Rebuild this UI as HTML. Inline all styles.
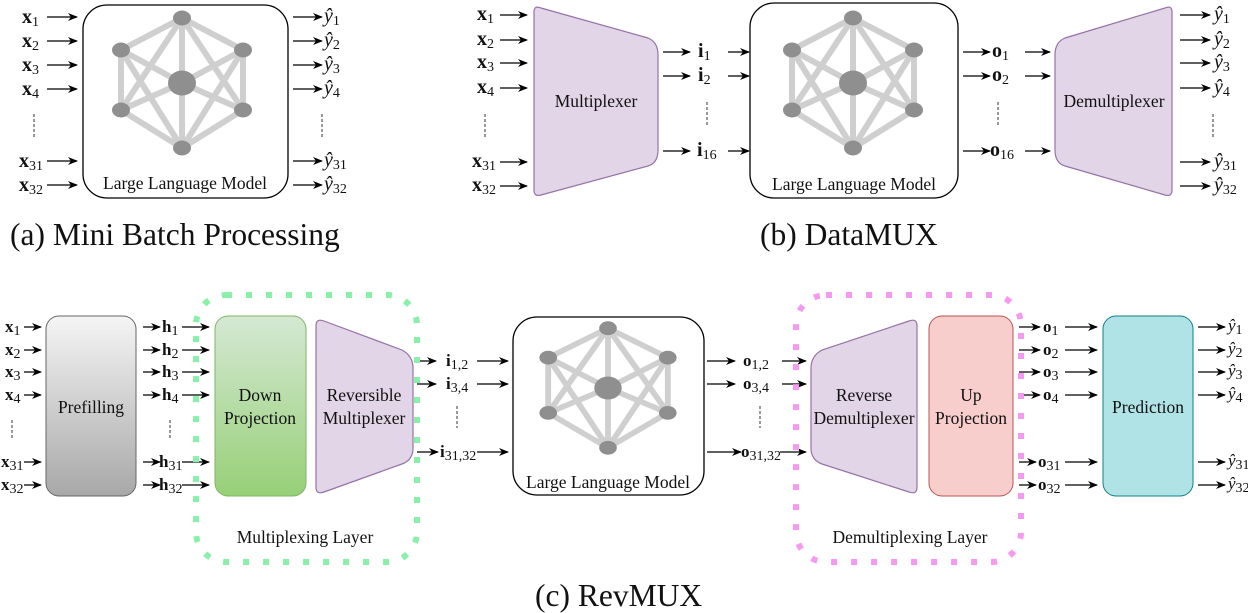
<!DOCTYPE html>
<html><head><meta charset="utf-8"><style>
html,body{margin:0;padding:0;background:#fff;}
svg{display:block;}
text{font-family:"Liberation Serif",serif;fill:#111;}
.b{font-weight:bold;font-size:20px;}
.y{font-style:italic;font-size:20px;}
.s{font-size:14px;font-weight:normal;font-style:normal;}
.t{font-size:17.5px;}
.cap{font-size:31.5px;}
</style></head><body>
<svg width="1248" height="613" viewBox="0 0 1248 613" xmlns="http://www.w3.org/2000/svg">
<defs>
<marker id="ar" markerWidth="10" markerHeight="8" refX="9" refY="4" orient="auto" markerUnits="userSpaceOnUse">
<path d="M0,0 L10,4 L0,8 L3,4 z" fill="#000"/></marker>
<g id="net">
<g stroke="#cfcfcf" stroke-width="6" fill="none">
<path d="M0,-65 L-61,-33 L-61,27 L0,65 L61,27 L61,-33 Z"/>
<path d="M0,-65 L0,65 M-61,-33 L0,0 L61,-33 M-61,27 L0,0 L61,27 M-61,-33 L0,65 M61,-33 L0,65 M-61,27 L0,-65 M61,27 L0,-65"/>
</g>
<g fill="#8f8f8f">
<ellipse cx="0" cy="-65" rx="9" ry="7.5"/><ellipse cx="-61" cy="-33" rx="9" ry="7.5"/><ellipse cx="61" cy="-33" rx="9" ry="7.5"/>
<ellipse cx="-61" cy="27" rx="9" ry="7.5"/><ellipse cx="61" cy="27" rx="9" ry="7.5"/><ellipse cx="0" cy="65" rx="9" ry="7.5"/>
<ellipse cx="0" cy="0" rx="14" ry="12.5"/>
</g></g>
<linearGradient id="gg" x1="0" y1="0" x2="0" y2="1"><stop offset="0" stop-color="#f5f5f5"/><stop offset="1" stop-color="#a8a8a8"/></linearGradient>
<linearGradient id="gn" x1="0" y1="0" x2="0" y2="1"><stop offset="0" stop-color="#d5e8d4"/><stop offset="1" stop-color="#97d077"/></linearGradient>
</defs>

<g stroke="#000" stroke-width="1.3" marker-end="url(#ar)">
<line x1="47" y1="17" x2="77" y2="17"/><line x1="47" y1="41" x2="77" y2="41"/><line x1="47" y1="65" x2="77" y2="65"/><line x1="47" y1="89" x2="77" y2="89"/>
<line x1="47" y1="161" x2="77" y2="161"/><line x1="47" y1="185" x2="77" y2="185"/>
<line x1="293" y1="17" x2="322" y2="17"/><line x1="293" y1="41" x2="322" y2="41"/><line x1="293" y1="65" x2="322" y2="65"/><line x1="293" y1="89" x2="322" y2="89"/>
<line x1="293" y1="161" x2="322" y2="161"/><line x1="293" y1="185" x2="322" y2="185"/>
<line x1="500" y1="15" x2="527" y2="15"/><line x1="500" y1="40" x2="527" y2="40"/><line x1="500" y1="63" x2="527" y2="63"/><line x1="500" y1="88" x2="527" y2="88"/>
<line x1="500" y1="162" x2="527" y2="162"/><line x1="500" y1="186" x2="527" y2="186"/>
<line x1="663" y1="52" x2="690" y2="52"/><line x1="663" y1="76" x2="690" y2="76"/><line x1="663" y1="151" x2="690" y2="151"/>
<line x1="728" y1="52" x2="749" y2="52"/><line x1="728" y1="76" x2="749" y2="76"/><line x1="728" y1="151" x2="749" y2="151"/>
<line x1="963" y1="52" x2="990" y2="52"/><line x1="963" y1="76" x2="990" y2="76"/><line x1="963" y1="151" x2="990" y2="151"/>
<line x1="1025" y1="52" x2="1050" y2="52"/><line x1="1025" y1="76" x2="1050" y2="76"/><line x1="1025" y1="151" x2="1050" y2="151"/>
<line x1="1180" y1="15" x2="1210" y2="15"/><line x1="1180" y1="40" x2="1210" y2="40"/><line x1="1180" y1="63" x2="1210" y2="63"/><line x1="1180" y1="88" x2="1210" y2="88"/>
<line x1="1180" y1="162" x2="1210" y2="162"/><line x1="1180" y1="186" x2="1210" y2="186"/>
<line x1="24" y1="327" x2="41" y2="327"/><line x1="24" y1="350" x2="41" y2="350"/><line x1="24" y1="372" x2="41" y2="372"/><line x1="24" y1="395" x2="41" y2="395"/>
<line x1="24" y1="462" x2="41" y2="462"/><line x1="24" y1="485" x2="41" y2="485"/>
<line x1="143" y1="327" x2="160" y2="327"/><line x1="143" y1="350" x2="160" y2="350"/><line x1="143" y1="372" x2="160" y2="372"/><line x1="143" y1="395" x2="160" y2="395"/>
<line x1="143" y1="462" x2="160" y2="462"/><line x1="143" y1="485" x2="160" y2="485"/>
<line x1="182" y1="327" x2="209" y2="327"/><line x1="182" y1="350" x2="209" y2="350"/><line x1="182" y1="372" x2="209" y2="372"/><line x1="182" y1="395" x2="209" y2="395"/>
<line x1="182" y1="462" x2="209" y2="462"/><line x1="182" y1="485" x2="209" y2="485"/>
<line x1="417" y1="361" x2="436" y2="361"/><line x1="417" y1="384" x2="436" y2="384"/><line x1="417" y1="452" x2="438" y2="452"/>
<line x1="477" y1="361" x2="508" y2="361"/><line x1="477" y1="384" x2="508" y2="384"/><line x1="477" y1="452" x2="508" y2="452"/>
<line x1="707" y1="361" x2="735" y2="361"/><line x1="707" y1="384" x2="735" y2="384"/><line x1="707" y1="452" x2="741" y2="452"/>
<line x1="782" y1="361" x2="806" y2="361"/><line x1="782" y1="384" x2="806" y2="384"/><line x1="780" y1="452" x2="806" y2="452"/>
<line x1="1019" y1="327" x2="1040" y2="327"/><line x1="1019" y1="350" x2="1040" y2="350"/><line x1="1019" y1="372" x2="1040" y2="372"/><line x1="1019" y1="395" x2="1040" y2="395"/>
<line x1="1019" y1="462" x2="1036" y2="462"/><line x1="1019" y1="485" x2="1036" y2="485"/>
<line x1="1065" y1="327" x2="1097" y2="327"/><line x1="1065" y1="350" x2="1097" y2="350"/><line x1="1065" y1="372" x2="1097" y2="372"/><line x1="1065" y1="395" x2="1097" y2="395"/>
<line x1="1065" y1="462" x2="1097" y2="462"/><line x1="1065" y1="485" x2="1097" y2="485"/>
<line x1="1198" y1="327" x2="1225" y2="327"/><line x1="1198" y1="350" x2="1225" y2="350"/><line x1="1198" y1="372" x2="1225" y2="372"/><line x1="1198" y1="395" x2="1225" y2="395"/>
<line x1="1198" y1="462" x2="1225" y2="462"/><line x1="1198" y1="485" x2="1225" y2="485"/>
</g>

<g stroke="#333" stroke-width="1" stroke-dasharray="3,2">
<line x1="34" y1="114" x2="34" y2="137"/><line x1="322" y1="114" x2="322" y2="137"/>
<line x1="485" y1="114" x2="485" y2="137"/><line x1="707" y1="102" x2="707" y2="125"/><line x1="998" y1="102" x2="998" y2="125"/><line x1="1213" y1="114" x2="1213" y2="137"/>
<line x1="12" y1="420" x2="12" y2="440"/><line x1="170" y1="420" x2="170" y2="440"/><line x1="457" y1="406" x2="457" y2="428"/><line x1="760" y1="406" x2="760" y2="428"/>
</g>

<rect x="83" y="5" width="205" height="193" rx="24" fill="#fff" stroke="#000" stroke-width="1.3"/>
<use href="#net" transform="translate(182,83)"/>
<text x="185" y="189" class="t" text-anchor="middle">Large Language Model</text>
<g class="b">
<text x="22" y="23">x<tspan class="s" dy="3">1</tspan></text><text x="22" y="47">x<tspan class="s" dy="3">2</tspan></text>
<text x="22" y="71">x<tspan class="s" dy="3">3</tspan></text><text x="22" y="95">x<tspan class="s" dy="3">4</tspan></text>
<text x="19" y="167">x<tspan class="s" dy="3">31</tspan></text><text x="19" y="191">x<tspan class="s" dy="3">32</tspan></text>
</g>
<g class="y">
<text x="324" y="22">ŷ<tspan class="s" dy="3">1</tspan></text><text x="324" y="46">ŷ<tspan class="s" dy="3">2</tspan></text>
<text x="324" y="70">ŷ<tspan class="s" dy="3">3</tspan></text><text x="324" y="94">ŷ<tspan class="s" dy="3">4</tspan></text>
<text x="324" y="166">ŷ<tspan class="s" dy="3">31</tspan></text><text x="324" y="190">ŷ<tspan class="s" dy="3">32</tspan></text>
</g>
<text x="10" y="245" class="cap">(a) Mini Batch Processing</text>

<path d="M534,12 Q534,5 541,8 L648,38 Q658,42 658,55 L658,150 Q658,163 648,166 L541,195 Q534,197 534,190 Z" fill="#e1d5e7" stroke="#9673a6" stroke-width="1.2"/>
<text x="596" y="107" class="t" text-anchor="middle">Multiplexer</text>
<rect x="750" y="3" width="208" height="195" rx="24" fill="#fff" stroke="#000" stroke-width="1.3"/>
<use href="#net" transform="translate(853,83)"/>
<text x="854" y="190" class="t" text-anchor="middle">Large Language Model</text>
<path d="M1172,12 Q1172,5 1165,8 L1065,38 Q1055,42 1055,55 L1055,150 Q1055,163 1065,166 L1165,195 Q1172,197 1172,190 Z" fill="#e1d5e7" stroke="#9673a6" stroke-width="1.2"/>
<text x="1114" y="107" class="t" text-anchor="middle">Demultiplexer</text>
<g class="b">
<text x="477" y="20">x<tspan class="s" dy="3">1</tspan></text><text x="477" y="45">x<tspan class="s" dy="3">2</tspan></text>
<text x="477" y="68">x<tspan class="s" dy="3">3</tspan></text><text x="477" y="93">x<tspan class="s" dy="3">4</tspan></text>
<text x="472" y="167">x<tspan class="s" dy="3">31</tspan></text><text x="472" y="191">x<tspan class="s" dy="3">32</tspan></text>
<text x="698" y="57">i<tspan class="s" dy="3">1</tspan></text><text x="698" y="81">i<tspan class="s" dy="3">2</tspan></text><text x="697" y="156">i<tspan class="s" dy="3">16</tspan></text>
<text x="992" y="57">o<tspan class="s" dy="3">1</tspan></text><text x="992" y="81">o<tspan class="s" dy="3">2</tspan></text><text x="990" y="156">o<tspan class="s" dy="3">16</tspan></text>
</g>
<g class="y">
<text x="1214" y="20">ŷ<tspan class="s" dy="3">1</tspan></text><text x="1214" y="45">ŷ<tspan class="s" dy="3">2</tspan></text>
<text x="1214" y="68">ŷ<tspan class="s" dy="3">3</tspan></text><text x="1214" y="93">ŷ<tspan class="s" dy="3">4</tspan></text>
<text x="1214" y="167">ŷ<tspan class="s" dy="3">31</tspan></text><text x="1214" y="191">ŷ<tspan class="s" dy="3">32</tspan></text>
</g>
<text x="760" y="245" class="cap">(b) DataMUX</text>

<rect x="196" y="295" width="221" height="267" rx="30" fill="none" stroke="#88f0a8" stroke-width="6" stroke-dasharray="6,14"/>
<rect x="796" y="295" width="225" height="267" rx="30" fill="none" stroke="#f59af0" stroke-width="6" stroke-dasharray="6,14"/>
<rect x="46" y="316" width="90" height="180" rx="13" fill="url(#gg)" stroke="#666" stroke-width="1"/>
<text x="91" y="413" class="t" text-anchor="middle">Prefilling</text>
<rect x="215" y="316" width="91" height="180" rx="13" fill="url(#gn)" stroke="#82b366" stroke-width="1"/>
<text x="260" y="401" class="t" text-anchor="middle">Down</text><text x="260" y="424" class="t" text-anchor="middle">Projection</text>
<path d="M316,326 Q316,318 324,321 L402,350 Q413,356 413,368 L413,448 Q413,460 402,464 L324,492 Q316,495 316,487 Z" fill="#e1d5e7" stroke="#9673a6" stroke-width="1.2"/>
<text x="364" y="401" class="t" text-anchor="middle">Reversible</text><text x="364" y="424" class="t" text-anchor="middle">Multiplexer</text>
<text x="305" y="543" class="t" text-anchor="middle">Multiplexing Layer</text>
<rect x="513" y="317" width="191" height="178" rx="24" fill="#fff" stroke="#000" stroke-width="1.3"/>
<use href="#net" transform="translate(608,388) scale(0.98,0.92)"/>
<text x="608" y="488" class="t" text-anchor="middle">Large Language Model</text>
<path d="M917,326 Q917,318 909,321 L822,350 Q811,356 811,368 L811,448 Q811,460 822,464 L909,492 Q917,495 917,487 Z" fill="#e1d5e7" stroke="#9673a6" stroke-width="1.2"/>
<text x="864" y="401" class="t" text-anchor="middle">Reverse</text><text x="864" y="424" class="t" text-anchor="middle">Demultiplexer</text>
<rect x="929" y="316" width="84" height="180" rx="13" fill="#f8cecc" stroke="#b85450" stroke-width="1"/>
<text x="971" y="401" class="t" text-anchor="middle">Up</text><text x="971" y="424" class="t" text-anchor="middle">Projection</text>
<text x="910" y="543" class="t" text-anchor="middle">Demultiplexing Layer</text>
<rect x="1103" y="316" width="90" height="180" rx="13" fill="#b0e3e6" stroke="#0e8088" stroke-width="1"/>
<text x="1148" y="413" class="t" text-anchor="middle">Prediction</text>
<g class="b" style="font-size:17px">
<text x="5" y="332">x<tspan class="s" dy="3">1</tspan></text><text x="5" y="355">x<tspan class="s" dy="3">2</tspan></text>
<text x="5" y="377">x<tspan class="s" dy="3">3</tspan></text><text x="5" y="400">x<tspan class="s" dy="3">4</tspan></text>
<text x="1" y="467">x<tspan class="s" dy="3">31</tspan></text><text x="1" y="490">x<tspan class="s" dy="3">32</tspan></text>
<text x="162" y="332">h<tspan class="s" dy="3">1</tspan></text><text x="162" y="355">h<tspan class="s" dy="3">2</tspan></text>
<text x="162" y="377">h<tspan class="s" dy="3">3</tspan></text><text x="162" y="400">h<tspan class="s" dy="3">4</tspan></text>
<text x="159" y="467">h<tspan class="s" dy="3">31</tspan></text><text x="159" y="490">h<tspan class="s" dy="3">32</tspan></text>
<text x="446" y="366">i<tspan class="s" dy="3">1,2</tspan></text><text x="446" y="389">i<tspan class="s" dy="3">3,4</tspan></text><text x="440" y="457">i<tspan class="s" dy="3">31,32</tspan></text>
<text x="743" y="366">o<tspan class="s" dy="3">1,2</tspan></text><text x="743" y="389">o<tspan class="s" dy="3">3,4</tspan></text><text x="741" y="457">o<tspan class="s" dy="3">31,32</tspan></text>
<text x="1043" y="332">o<tspan class="s" dy="3">1</tspan></text><text x="1043" y="355">o<tspan class="s" dy="3">2</tspan></text>
<text x="1043" y="377">o<tspan class="s" dy="3">3</tspan></text><text x="1043" y="400">o<tspan class="s" dy="3">4</tspan></text>
<text x="1038" y="467">o<tspan class="s" dy="3">31</tspan></text><text x="1038" y="490">o<tspan class="s" dy="3">32</tspan></text>
</g>
<g class="y" style="font-size:17px">
<text x="1228" y="331">ŷ<tspan class="s" dy="3">1</tspan></text><text x="1228" y="354">ŷ<tspan class="s" dy="3">2</tspan></text>
<text x="1228" y="376">ŷ<tspan class="s" dy="3">3</tspan></text><text x="1228" y="399">ŷ<tspan class="s" dy="3">4</tspan></text>
<text x="1228" y="466">ŷ<tspan class="s" dy="3">31</tspan></text><text x="1228" y="489">ŷ<tspan class="s" dy="3">32</tspan></text>
</g>
<text x="535" y="606" class="cap">(c) RevMUX</text>
</svg>
</body></html>
